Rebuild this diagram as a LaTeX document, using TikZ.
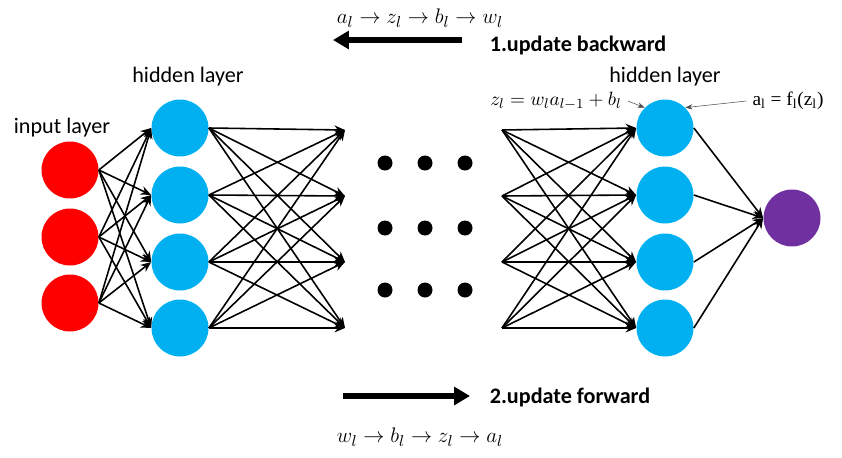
\documentclass[tikz,border=0pt]{standalone}
\usepackage{amsmath}
\usepackage[no-math]{fontspec}
\setmainfont{Carlito}
\newfontfamily\serif{Liberation Serif}
\usetikzlibrary{arrows.meta}
\definecolor{nred}{HTML}{FF0000}
\definecolor{nblue}{HTML}{00B0F0}
\definecolor{npurple}{HTML}{7030A0}
\begin{document}
\begin{tikzpicture}[x=0.02cm,y=-0.02cm,
  neuron/.style={circle,inner sep=0,minimum size=1.14cm},
  edge/.style={line width=0.9pt,-{Stealth[length=6pt,width=5pt]}},
  note/.style={-{Stealth[length=4pt,width=3pt]},line width=0.3pt,black!70},
  big/.style={line width=3pt,-{Triangle[length=9pt,width=10pt]}},
  lbl/.style={font=\fontsize{12.6}{14}\selectfont},
  hd/.style={font=\bfseries\fontsize{12.6}{14}\selectfont},
  dot/.style={circle,fill=black,inner sep=0,minimum size=0.3cm}]
\useasboundingbox (0,0) rectangle (842,457);
% input layer
\foreach \i/\y in {1/170,2/237,3/303}
  \node[neuron,fill=nred] (i\i) at (70,\y) {};
% hidden layer 1
\foreach \i/\y in {1/128,2/195,3/262,4/328}
  \node[neuron,fill=nblue] (h\i) at (180,\y) {};
% free ends of the first block
\foreach \i/\y in {1/130,2/196,3/262,4/328}
  \coordinate (p\i) at (345,\y);
% starting points of the last block
\foreach \i/\y in {1/130,2/196,3/262,4/328}
  \coordinate (q\i) at (502,\y);
% hidden layer 2
\foreach \i/\y in {1/128,2/195,3/262,4/328}
  \node[neuron,fill=nblue] (g\i) at (665,\y) {};
\node[neuron,fill=npurple] (o) at (792,218) {};
% edges
\foreach \a in {1,2,3}
  \foreach \b in {1,2,3,4}
    \draw[edge] (i\a.east) -- (h\b.west);
\foreach \a in {1,2,3,4}
  \foreach \b in {1,2,3,4}
    \draw[edge] (h\a.east) -- (p\b);
\foreach \a in {1,2,3,4}
  \foreach \b in {1,2,3,4}
    \draw[edge] (q\a) -- (g\b.west);
\foreach \a in {1,2,3,4}
  \draw[edge] (g\a.east) -- (o.west);
% dots
\foreach \x in {385,425,465}
  \foreach \y in {163,228,290}
    \node[dot] at (\x,\y) {};
% labels
\node[lbl] (tin) at (62,128) {input layer};
\node[lbl] (th1) at (188,77) {hidden layer};
\node[lbl] (th2) at (665,77) {hidden layer};
\node[font=\fontsize{11}{13}\selectfont] (zf) at (556,101) {$z_l = w_l a_{l-1} + b_l$};
\node[font=\serif\fontsize{11}{13}\selectfont] (af) at (788,101) {a\textsubscript{l} = f\textsubscript{l}(z\textsubscript{l})};
\draw[note] (zf.east) -- (g1.north west);
\draw[note] (af.west) -- (g1.north east);
% update arrows
\node[font=\fontsize{12.5}{14}\selectfont] (top) at (420,18) {$a_l \rightarrow z_l \rightarrow b_l \rightarrow w_l$};
\coordinate (b1) at (462,40);
\coordinate (b2) at (333,40);
\draw[big] (b1) -- (b2);
\node[hd] (tb) at (578,45) {1.update backward};
\coordinate (f1) at (343,396);
\coordinate (f2) at (470,396);
\draw[big] (f1) -- (f2);
\node[hd] (tf) at (570,397) {2.update forward};
\node[font=\fontsize{12.5}{14}\selectfont] (bot) at (420,437) {$w_l \rightarrow b_l \rightarrow z_l \rightarrow a_l$};
\end{tikzpicture}
\end{document}
